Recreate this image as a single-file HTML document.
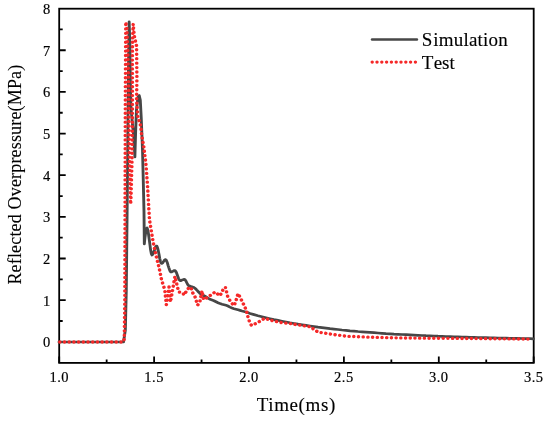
<!DOCTYPE html>
<html><head><meta charset="utf-8"><title>Reflected Overpressure</title>
<style>
html,body{margin:0;padding:0;background:#fff;}
body{width:550px;height:421px;overflow:hidden;}
svg{display:block;font-family:"Liberation Serif","Times New Roman",serif;}
</style></head><body>
<svg width="550" height="421" viewBox="0 0 550 421">
<rect width="550" height="421" fill="#fff"/>
<rect x="59.2" y="8.7" width="474.50" height="354.20" fill="none" stroke="#000" stroke-width="1.8"/>
<path d="M59.20 362.90V356.40 M106.65 362.90V359.40 M154.10 362.90V356.40 M201.55 362.90V359.40 M249.00 362.90V356.40 M296.45 362.90V359.40 M343.90 362.90V356.40 M391.35 362.90V359.40 M438.80 362.90V356.40 M486.25 362.90V359.40 M533.70 362.90V356.40 M59.20 341.80H65.70 M59.20 320.98H62.70 M59.20 300.15H65.70 M59.20 279.33H62.70 M59.20 258.50H65.70 M59.20 237.68H62.70 M59.20 216.85H65.70 M59.20 196.03H62.70 M59.20 175.20H65.70 M59.20 154.38H62.70 M59.20 133.55H65.70 M59.20 112.73H62.70 M59.20 91.90H65.70 M59.20 71.08H62.70 M59.20 50.25H65.70 M59.20 29.43H62.70" stroke="#000" stroke-width="1.8" fill="none"/>
<g transform="translate(59.2 0) scale(1.06 1) translate(-59.2 0)">
<polyline points="59.0,342.0 119.9,342.0 121.6,330.0 122.5,290.0 123.5,190.0 124.4,80.0 125.2,21.8 125.9,45.0 126.3,80.0 126.7,105.0 128.1,122.0 129.6,137.0 130.6,157.0 131.3,132.0 132.1,110.0 133.5,97.0 134.7,95.5 135.7,100.0 136.6,118.0 137.8,150.0 138.5,180.0 139.2,212.0 139.5,244.0 140.1,237.5 140.8,232.3 141.5,229.0 142.1,228.0 142.8,229.9 143.4,233.8 144.1,239.1 144.8,244.7 145.4,249.8 146.1,253.6 146.7,255.0 147.4,254.4 148.1,253.0 148.7,251.1 149.4,249.1 150.0,247.3 150.7,246.2 151.4,246.2 152.0,247.9 152.7,250.9 153.4,254.5 154.0,258.2 154.7,261.3 155.3,263.2 156.0,263.4 156.7,262.9 157.3,262.0 158.0,261.0 158.6,260.1 159.3,259.6 160.0,259.9 160.6,261.1 161.3,263.0 161.9,265.3 162.6,267.6 163.3,269.7 163.9,271.3 164.6,272.0 165.2,271.9 165.9,271.6 166.6,271.2 167.2,270.8 167.9,270.5 168.5,270.6 169.2,271.4 169.9,272.9 170.5,274.7 171.2,276.7 171.8,278.5 172.5,279.9 173.2,280.6 173.8,280.6 174.5,280.4 175.1,280.1 175.8,279.8 176.5,279.6 177.1,279.4 177.8,279.5 178.4,280.4 179.1,281.7 179.8,283.2 180.4,284.5 181.1,285.5 181.7,285.9 182.4,286.1 183.1,286.4 183.7,286.6 184.4,286.8 185.0,287.1 185.7,287.3 186.4,287.6 187.0,288.0 187.7,288.6 188.4,289.3 189.0,290.1 189.7,290.8 190.3,291.5 191.0,292.3 191.7,293.0 192.0,293.5 193.9,294.8 195.8,295.8 197.7,296.8 199.6,298.2 201.5,299.3 203.4,300.0 205.2,300.7 207.1,301.7 209.0,302.7 210.9,303.6 212.8,304.3 214.7,304.8 216.6,305.3 218.4,306.0 220.3,307.1 222.2,308.0 224.1,308.7 226.0,309.2 227.9,309.8 229.8,310.4 231.7,311.0 233.5,311.5 235.4,312.0 237.3,312.6 239.2,313.5 243.0,314.6 246.7,315.7 250.5,316.7 254.3,317.7 258.1,318.7 261.8,319.6 265.6,320.4 269.4,321.2 273.2,322.0 276.9,322.8 280.7,323.5 284.5,324.2 288.3,324.8 292.0,325.4 295.8,326.0 299.6,326.6 303.4,327.2 307.1,327.7 310.9,328.2 314.7,328.7 318.4,329.1 322.2,329.5 326.0,330.0 329.8,330.4 333.5,330.8 337.3,331.1 341.1,331.5 344.9,331.8 348.6,332.1 352.4,332.4 356.2,332.7 360.0,333.0 363.7,333.3 367.5,333.6 371.3,333.8 375.0,334.1 378.8,334.3 382.6,334.5 386.4,334.7 390.1,334.9 393.9,335.1 397.7,335.3 401.5,335.5 405.2,335.7 409.0,335.8 412.8,336.0 416.6,336.2 420.3,336.3 424.1,336.5 427.9,336.6 431.7,336.8 435.4,336.9 439.2,337.0 443.0,337.1 446.7,337.3 450.5,337.4 454.3,337.5 458.1,337.6 461.8,337.7 465.6,337.8 469.4,337.9 473.2,338.0 476.9,338.1 480.7,338.2 484.5,338.3 488.3,338.4 492.0,338.4 495.8,338.5 499.6,338.6 503.4,338.7 506.7,338.8" fill="none" stroke="#474747" stroke-width="2.7" stroke-linejoin="round" stroke-linecap="round"/>
<polyline points="59.0,342.0 119.4,342.0 120.6,339.0 121.1,300.0 121.6,100.0 122.0,22.0 123.0,28.0 123.9,50.0 124.6,80.0 124.9,120.0 125.3,155.0 126.2,190.0 126.6,204.0 127.0,195.0 127.9,160.0 128.3,120.0 128.2,60.0 128.4,40.0 129.0,24.0 130.0,36.0 132.2,46.0 132.5,78.0 132.2,100.0 133.4,117.0 135.4,123.0 136.2,127.0 137.0,135.0 139.0,147.0 141.1,165.0 142.5,185.0 143.5,204.0 144.4,220.0 147.7,241.4 151.1,258.0 153.4,267.5 155.8,280.0 158.8,289.8 160.3,304.7 162.8,287.0 164.2,302.0 168.4,276.4 171.9,291.9 176.0,293.0 176.9,295.0 181.5,287.6 183.6,287.6 184.7,292.0 187.2,296.4 189.8,305.1 191.8,302.4 193.9,290.9 195.4,299.6 199.1,297.5 202.7,294.7 206.3,292.0 209.4,294.7 210.9,295.8 213.0,291.5 214.5,287.6 216.1,287.6 218.1,296.4 220.1,300.2 222.2,303.5 224.3,305.6 225.8,301.3 227.9,293.6 230.0,297.5 231.9,301.8 234.0,306.2 235.6,310.0 236.7,314.9 238.8,322.0 240.6,325.4 245.5,323.2 252.9,318.3 260.6,320.8 269.9,322.8 279.0,323.8 283.1,324.8 287.8,325.4 292.4,326.2 296.7,326.9 299.8,329.7 303.9,332.3 308.4,332.9 312.4,333.6 317.0,334.4 321.7,335.1 326.1,335.7 330.2,336.2 351.5,337.2 373.8,337.8 396.2,338.1 418.4,338.3 456.2,338.6 501.9,339.1" fill="none" stroke="#f52828" stroke-width="3.35" stroke-dasharray="0.01 4.43" stroke-dashoffset="3.68" stroke-linecap="round" stroke-linejoin="round"/>
</g>
<g font-size="14.5" fill="#000" stroke="#000" stroke-width="0.18">
<text x="59.2" y="381.8" text-anchor="middle" letter-spacing="0.5">1.0</text><text x="154.1" y="381.8" text-anchor="middle" letter-spacing="0.5">1.5</text><text x="249.0" y="381.8" text-anchor="middle" letter-spacing="0.5">2.0</text><text x="343.9" y="381.8" text-anchor="middle" letter-spacing="0.5">2.5</text><text x="438.8" y="381.8" text-anchor="middle" letter-spacing="0.5">3.0</text><text x="533.7" y="381.8" text-anchor="middle" letter-spacing="0.5">3.5</text>
<text x="50.2" y="347.1" text-anchor="end">0</text><text x="50.2" y="305.5" text-anchor="end">1</text><text x="50.2" y="263.8" text-anchor="end">2</text><text x="50.2" y="222.2" text-anchor="end">3</text><text x="50.2" y="180.5" text-anchor="end">4</text><text x="50.2" y="138.9" text-anchor="end">5</text><text x="50.2" y="97.2" text-anchor="end">6</text><text x="50.2" y="55.5" text-anchor="end">7</text><text x="50.2" y="13.9" text-anchor="end">8</text>
</g>
<g font-size="19" fill="#000" stroke="#000" stroke-width="0.12">
<text x="296.3" y="410.5" text-anchor="middle" letter-spacing="0.6">Time(ms)</text>
<text transform="translate(21.3 174.6) rotate(-90)" text-anchor="middle" font-size="18" letter-spacing="0.17">Reflected Overpressure(MPa)</text>
<text x="421.7" y="45.8" letter-spacing="0.2">S<tspan dx="0.8">imulation</tspan></text>
<text x="421.8" y="68.6">T<tspan dx="1.6">est</tspan></text>
</g>
<line x1="372.1" y1="39.45" x2="416.9" y2="39.45" stroke="#474747" stroke-width="2.6" stroke-linecap="round"/>
<line x1="372.2" y1="62.1" x2="416" y2="62.1" stroke="#f52828" stroke-width="3.4" stroke-dasharray="0.01 4.79" stroke-linecap="round"/>
</svg>
</body></html>
